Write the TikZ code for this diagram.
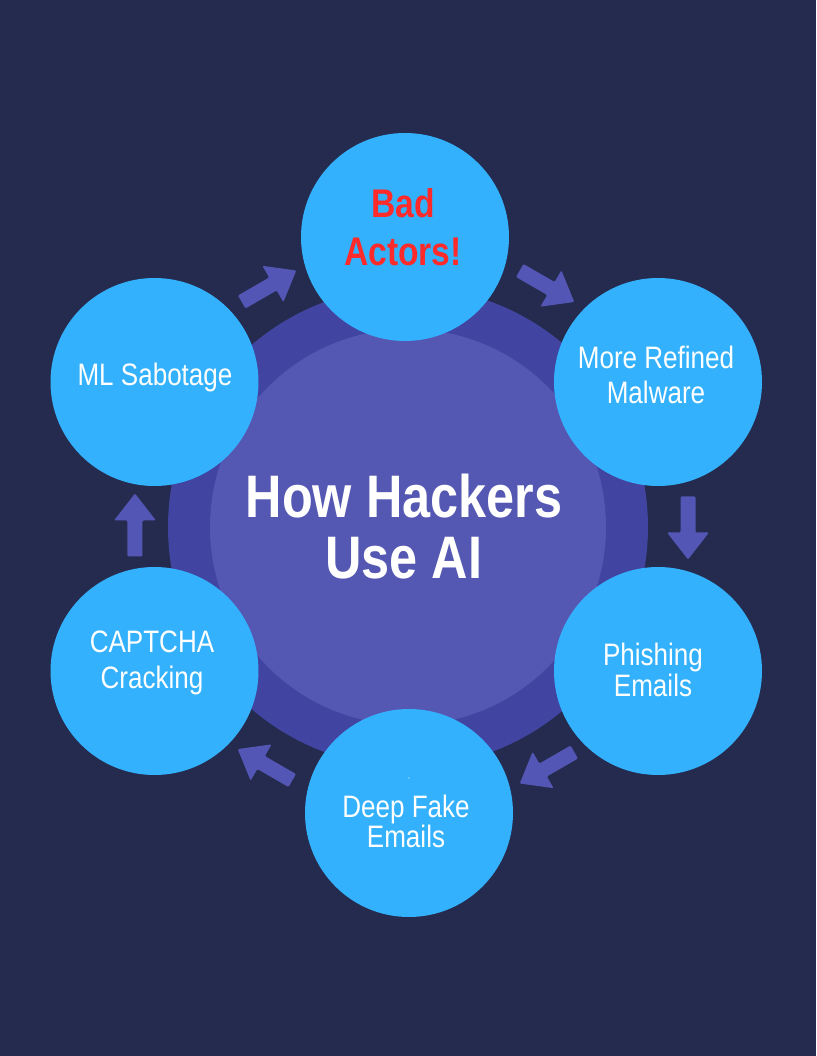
\documentclass[tikz,border=0pt]{standalone}
\usepackage{fontspec}
\setmainfont{Liberation Sans}[FakeStretch=0.84]
\definecolor{bgc}{HTML}{252B4E}
\definecolor{ringc}{HTML}{4144A0}
\definecolor{innerc}{HTML}{5558B2}
\definecolor{bluec}{HTML}{33B1FD}
\definecolor{arrowc}{HTML}{5356B5}
\definecolor{redc}{HTML}{FF2A2A}
\tikzset{
  x=1pt,y=1pt,
  item/.style={circle, fill=bluec, minimum size=208pt, inner sep=0pt},
  lbl/.style={text=white, align=center, inner sep=0pt, font=\fontsize{31}{#1}\selectfont},
  lbl/.default=35,
  blockarr/.style={fill=arrowc, rounded corners=1.2pt},
}
\newcommand\blockarrow[2]{%
  \begin{scope}[shift={#1}, rotate=#2]
    \fill[blockarr] (-31.5,-7.5) -- (4.5,-7.5) -- (4.5,-21) -- (31.5,0) -- (4.5,21) -- (4.5,7.5) -- (-31.5,7.5) -- cycle;
  \end{scope}}
\begin{document}
\begin{tikzpicture}
\fill[bgc] (-408,-529) rectangle (408,527);
\useasboundingbox (-408,-529) rectangle (408,527);
\node[circle, fill=ringc, minimum size=480pt, inner sep=0pt] (ring) at (0,0) {};
\node[circle, fill=innerc, minimum size=396pt, inner sep=0pt] (inner) at (0,0) {};
\node[text=white, align=center, inner sep=0pt, font=\bfseries\fontsize{60}{61}\selectfont] (title) at (-4,0) {How Hackers\\Use AI};
\node[item] (bad) at (-3,290) {};
\node[item] (malware) at (250,145) {};
\node[item] (phish) at (250,-144) {};
\node[item] (deep) at (1,-286) {};
\node[item] (captcha) at (-253.5,-144) {};
\node[item] (ml) at (-253.5,145) {};
\node[text=redc, align=center, inner sep=0pt, font=\bfseries\fontsize{40}{48}\selectfont] (badt) at (-5,300) {Bad\\Actors!};
\node[lbl=35] (malwaret) at (248,152) {More Refined\\Malware};
\node[lbl=31] (phisht) at (245,-143) {Phishing\\Emails};
\node[lbl=30] (deept) at (-2,-294) {Deep Fake\\Emails};
\node[lbl=36] (captchat) at (-256,-136) {CAPTCHA\\Cracking};
\node[lbl] (mlt) at (-253,150) {ML Sabotage};
\node[text=white!80!bluec, font=\fontsize{3}{3}\selectfont, inner sep=0pt] (speck) at (1,-251) {8};
\blockarrow{(120:278)}{30}
\blockarrow{(60:278)}{-30}
\blockarrow{(280,-1)}{-90}
\blockarrow{(-60:278)}{-150}
\blockarrow{(-143,-237.8)}{150}
\blockarrow{(-273,2)}{90}
\end{tikzpicture}
\end{document}
